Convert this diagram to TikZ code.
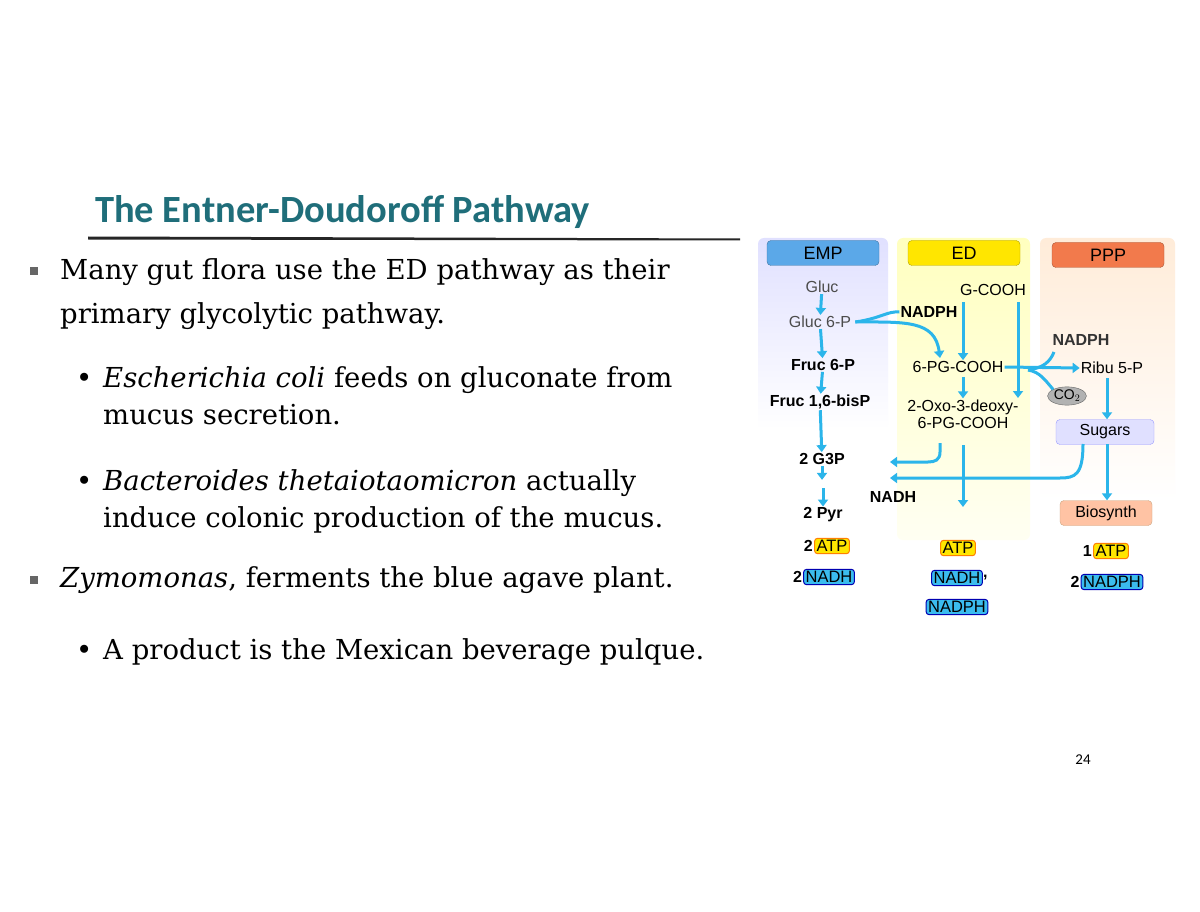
\documentclass[tikz,border=0pt]{standalone}
\usepackage{fontspec}
\setmainfont{DejaVu Serif}
\newfontfamily\ttl{Carlito}
\newfontfamily\dsf{Liberation Sans}
\usetikzlibrary{arrows.meta,shapes.geometric}
\definecolor{teal1}{HTML}{1F6E7A}
\definecolor{arr}{HTML}{2BB5EA}
\definecolor{empc}{HTML}{5BA8E8}
\definecolor{edc}{HTML}{FFE600}
\definecolor{pppc}{HTML}{F27A4C}
\definecolor{nadc}{HTML}{3BBCEE}
\begin{document}
\begin{tikzpicture}[x=1pt,y=-1pt,
 body/.style={anchor=west,inner sep=0pt,font=\fontsize{27.5}{30}\selectfont},
 lab/.style={inner sep=1pt,font=\dsf\fontsize{16}{16}\selectfont},
 blab/.style={lab,font=\dsf\bfseries\fontsize{16}{16}\selectfont},
 hdr/.style={rounded corners=4pt,minimum width=112pt,minimum height=25pt,font=\dsf\fontsize{18}{18}\selectfont,draw=#1!70!black,fill=#1},
 atp/.style={rounded corners=3pt,fill=edc,draw=orange,line width=1pt,inner sep=2pt,font=\dsf\fontsize{16.5}{16.5}\selectfont},
 nad/.style={rounded corners=3pt,fill=nadc,draw=blue!70!black,line width=1pt,inner sep=2pt,font=\dsf\fontsize{16.5}{16.5}\selectfont},
 ar/.style={arr,line width=3pt,-{Triangle[length=7pt,width=10pt]}},
 ln/.style={arr,line width=3pt}]
\useasboundingbox (0,0) rectangle (1200,912);
\fill[white] (0,0) rectangle (1200,912);
% title
\node[anchor=west,inner sep=0pt,text=teal1,font=\ttl\bfseries\fontsize{38.5}{38}\selectfont] (title) at (95,212) {The Entner-Doudoroff Pathway};
\fill[black!85] (88,236.5) -- (740,238.5) -- (740,240.5) -- (88,239.5) -- cycle;
% bullets
\fill[black!60] (30,267) rectangle (38,275);
\node[body] (b1) at (60,272) {Many gut flora use the ED pathway as their};
\node[body] (b1b) at (60,316) {primary glycolytic pathway.};
\node[body] (d1) at (76,380) {\textbullet};
\node[body] (s1) at (103,380) {\textit{Escherichia coli} feeds on gluconate from};
\node[body] (s1b) at (103,415) {mucus secretion.};
\node[body] (d2) at (76,483) {\textbullet};
\node[body] (s2) at (103,483) {\textit{Bacteroides thetaiotaomicron} actually};
\node[body] (s2b) at (103,520) {induce colonic production of the mucus.};
\fill[black!60] (30,576) rectangle (38,584);
\node[body] (b2) at (60,580) {\textit{Zymomonas}, ferments the blue agave plant.};
\node[body] (d3) at (76,652) {\textbullet};
\node[body] (s3) at (103,652) {A product is the Mexican beverage pulque.};
\node[font=\ttl\fontsize{15}{15}\selectfont] (pg) at (1083,760) {24};
% panels
\shade[top color=blue!12,bottom color=white,rounded corners=6pt] (758,238) rectangle (888,430);
\shade[top color=yellow!25,bottom color=yellow!5,rounded corners=6pt] (897,238) rectangle (1030,540);
\shade[top color=orange!15,bottom color=white,rounded corners=6pt] (1040,238) rectangle (1175,500);
\node[hdr=empc] (emp) at (823,253) {EMP};
\node[hdr=edc] (ed) at (964,253) {ED};
\node[hdr=pppc] (ppp) at (1108,255) {PPP};
% EMP
\node[lab,text=black!70] (gluc) at (822,287) {Gluc};
\node[lab,text=black!70] (g6p) at (820,322) {Gluc 6-P};
\node[blab] (f6p) at (823,365) {Fruc 6-P};
\node[blab] (fbp) at (820,402) {Fruc 1,6-bisP};
\node[blab] (g3p) at (822,459) {2 G3P};
\node[blab] (pyr) at (823,515) {2 Pyr};
\node[blab] (nadh) at (893,497) {NADH};
\node[atp] (atp1) at (832,546) {ATP};
\node[blab,anchor=east] (n1) at (atp1.west) {2};
\node[nad] (nad1) at (829,577) {NADH};
\node[blab,anchor=east] (n2) at (nad1.west) {2};
% ED
\node[lab] (gc) at (993,290) {G-COOH};
\node[blab] (np1) at (929,312) {NADPH};
\node[lab] (pg6) at (958,367) {6-PG-COOH};
\node[lab] (oxo) at (963,407) {2-Oxo-3-deoxy-};
\node[lab] (oxo2) at (963,423) {6-PG-COOH};
\node[atp] (atp2) at (958,548) {ATP};
\node[nad] (nad2) at (957,578) {NADH};
\node[blab,anchor=west,inner sep=0pt] (cm) at (nad2.east) {,};
\node[nad] (nadp2) at (957,607) {NADPH};
% PPP
\node[blab,text=black!80] (np2) at (1081,340) {NADPH};
\node[lab] (ribu) at (1112,368) {Ribu 5-P};
\node[ellipse,fill=black!30,draw=black!60,inner sep=0.5pt,font=\dsf\fontsize{14}{14}\selectfont] (co2) at (1067,396) {CO$_2$};
\node[rounded corners=4pt,fill=blue!12,draw=blue!40,minimum width=98pt,minimum height=25pt,font=\dsf\fontsize{16}{16}\selectfont] (sug) at (1105,432) {Sugars};
\node[rounded corners=4pt,fill=orange!35!pink!70,draw=orange!60!black!50,minimum width=92pt,minimum height=25pt,font=\dsf\fontsize{16}{16}\selectfont] (bio) at (1106,513) {Biosynth};
\node[atp] (atp3) at (1111,551) {ATP};
\node[blab,anchor=east] (n3) at (atp3.west) {1};
\node[nad] (nad3) at (1112,582) {NADPH};
\node[blab,anchor=east] (n4) at (nad3.west) {2};
% arrows EMP
\draw[ar] (gluc) -- (g6p);
\draw[ar] (g6p) -- (f6p);
\draw[ar] (f6p) -- (fbp);
\draw[ar] (fbp) -- (g3p);
\draw[ar] (g3p.south) -- ++(0,14);
\draw[ar] (823,488) -- (pyr);
% ED arrows
\coordinate (g6pe) at ([xshift=3pt]g6p.east);
\draw[ar] (g6pe) .. controls (905,322) and (935,320) .. (940,358);
\draw[ln] (g6pe) .. controls (882,318) and (887,311) .. (np1.west);
\draw[ar] (963,302) -- (pg6.north -| 963,0);
\draw[ar] (1018,302) -- (1018,398);
\draw[ar] (963,377) -- (oxo.north -| 963,0);
\draw[ar] (963,445) -- (963,507);
\draw[ar] (940,443) -- (940,452) .. controls (940,460) and (935,462) .. (928,462) -- (890,462);
\draw[ar] (pg6.east) -- (ribu.west);
\draw[ln] (1028,370) .. controls (1043,368) and (1050,362) .. (1054,352);
\draw[ln] (1028,370) .. controls (1040,372) and (1045,380) .. (co2.north west);
\draw[ar] (1107,378) -- (sug.north -| 1107,0);
\draw[ar] (1083,444) .. controls (1083,475) and (1075,478) .. (1060,478) -- (890,478);
\draw[ar] (1107,444) -- (bio.north -| 1107,0);
\end{tikzpicture}
\end{document}
